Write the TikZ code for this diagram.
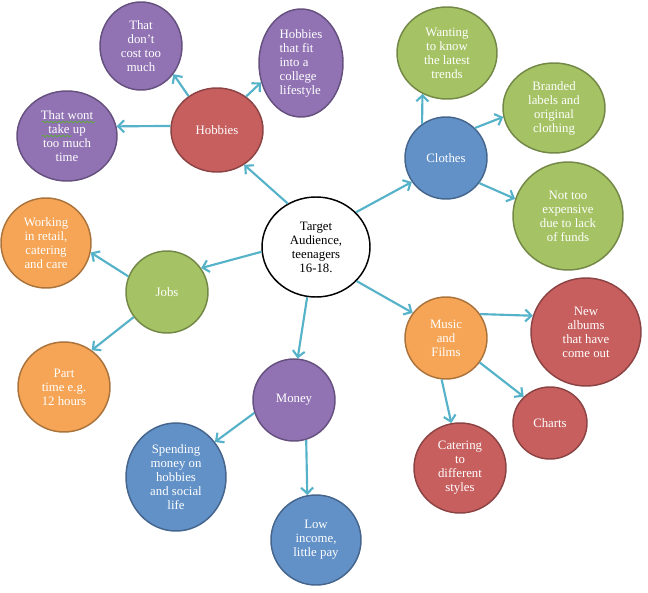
\documentclass[tikz,border=0pt]{standalone}
\usepackage{fontspec}
\setmainfont{Liberation Serif}
\usetikzlibrary{shapes.geometric,arrows.meta,decorations.pathmorphing}

\definecolor{redf}{RGB}{200,95,95}
\definecolor{purf}{RGB}{145,115,180}
\definecolor{grnf}{RGB}{165,195,100}
\definecolor{bluf}{RGB}{98,145,200}
\definecolor{orgf}{RGB}{245,165,85}
\definecolor{linkc}{RGB}{85,178,200}
\definecolor{squigc}{RGB}{95,170,60}

\begin{document}
\begin{tikzpicture}[x=0.75pt,y=0.75pt,yscale=-1,xscale=1,
  bub/.style n args={3}{ellipse, draw=#3!70!black, fill=#3, line width=1.1pt,
    minimum width=#1*1.5pt, minimum height=#2*1.5pt, inner sep=0pt,
    text=white, align=center, font=\fontsize{9.6}{10.5}\selectfont},
  link/.style={draw=linkc, line width=1.6pt, -{Straight Barb[length=4.5pt,width=9pt]}},
  squig/.style={draw=squigc, line width=0.6pt, decorate,
    decoration={snake, segment length=3pt, amplitude=0.6pt}}]
  \useasboundingbox (0,0) rectangle (648,592);

  \node[bub={54}{50}{white}, draw=black, text=black] (target) at (316,247) {Target\\Audience,\\teenagers\\16-18.};

  \node[bub={46}{42}{redf}] (hobbies) at (217,130) {Hobbies};
  \node[bub={41}{44}{purf}] (cheap) at (141,46) {That\\don’t\\cost too\\much};
  \node[bub={42}{54}{purf}, align=left] (college) at (301,63) {Hobbies\\that fit\\into a\\college\\lifestyle};
  \node[bub={50}{45}{purf}] (quick) at (67,136) {That wont\\take up\\too much\\time};

  \node[bub={41}{41}{bluf}] (clothes) at (446,158) {Clothes};
  \node[bub={50}{46}{grnf}] (trends) at (447,53) {Wanting\\to know\\the latest\\trends};
  \node[bub={51}{45}{grnf}] (brands) at (554,108) {Branded\\labels and\\original\\clothing};
  \node[bub={55}{54}{grnf}] (funds) at (568,216) {Not too\\expensive\\due to lack\\of funds};

  \node[bub={41}{41}{grnf}] (jobs) at (167,292) {Jobs};
  \node[bub={45}{45}{orgf}] (retail) at (46,243) {Working\\in retail,\\catering\\and care};
  \node[bub={46}{45}{orgf}] (parttime) at (64,387) {Part\\time e.g.\\12 hours};

  \node[bub={41}{41}{purf}] (money) at (294,400) {Money};
  \node[bub={50}{54}{bluf}] (spend) at (176,477) {Spending\\money on\\hobbies\\and social\\life};
  \node[bub={45}{45}{bluf}] (income) at (316,540) {Low\\income,\\little pay};

  \node[bub={41}{41}{orgf}] (music) at (446,338) {Music\\and\\Films};
  \node[bub={55}{54}{redf}] (albums) at (586,332) {New\\albums\\that have\\come out};
  \node[bub={37}{36}{redf}] (charts) at (550,423) {Charts};
  \node[bub={46}{45}{redf}] (styles) at (460,468) {Catering\\to\\different\\styles};

  % spell check marks
  \draw[squig] (42,122) -- (95,122);
  \draw[squig] (42,136) -- (72,136);

  \draw[link] (target.123) -- (hobbies.308);
  \draw[link] (target.41) -- (clothes.215);
  \draw[link] (target.185) -- (jobs.35);
  \draw[link] (target.260) -- (money.85);
  \draw[link] (target.320) -- (music.143);

  \draw[link] (hobbies.130) -- (cheap.319);
  \draw[link] (hobbies.49) -- (college.206);
  \draw[link] (hobbies.175) -- (quick.11);

  \draw[link] (clothes.125) -- (trends.239);
  \draw[link] (clothes.46) -- (brands.190);
  \draw[link] (clothes.323) -- (funds.162);

  \draw[link] (jobs.158) -- (retail.348);
  \draw[link] (jobs.217) -- (parttime.53);

  \draw[link] (money.198) -- (spend.42);
  \draw[link] (money.287) -- (income.101);

  \draw[link] (music.35) -- (albums.163);
  \draw[link] (music.324) -- (charts.135);
  \draw[link] (music.264) -- (styles.101);
\end{tikzpicture}
\end{document}
